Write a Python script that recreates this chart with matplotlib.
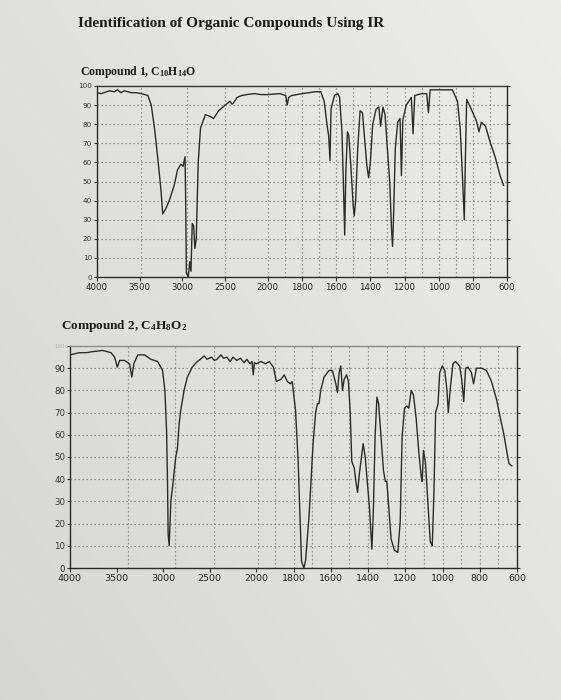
import numpy as np
import matplotlib
matplotlib.use("Agg")
import matplotlib.pyplot as plt
from matplotlib.colors import LinearSegmentedColormap

plt.rcParams['mathtext.fontset'] = 'custom'
plt.rcParams['mathtext.rm'] = 'Liberation Serif:bold'
plt.rcParams['mathtext.it'] = 'Liberation Serif:italic:bold'
plt.rcParams['mathtext.bf'] = 'Liberation Serif:bold'

title = "Identification of Organic Compounds Using IR"
label1 = r"Compound 1, C$_{10}$H$_{14}$O"
label2 = r"Compound 2, C$_{4}$H$_{8}$O$_{2}$"

xtick_vals = [4000, 3500, 3000, 2500, 2000, 1800, 1600, 1400, 1200, 1000, 800, 600]
ytick_vals = [0, 10, 20, 30, 40, 50, 60, 70, 80, 90, 100]
vgrid_low = [1900, 1800, 1700, 1600, 1500, 1400, 1300, 1200, 1100, 1000, 900, 800, 700]
vgrid_high1 = [3480, 2950, 2500, 2000]
vgrid_high2 = [3380, 2870, 2450, 1990]
hgrid_vals = [10, 20, 30, 40, 50, 60, 70, 80, 90]

# Compound 1 spectrum (wavenumber, %T)
wn1 = [4000, 3950, 3900, 3850, 3800, 3760, 3720, 3680, 3640, 3600, 3540, 3480,
       3440, 3404, 3365, 3327, 3288, 3250, 3231, 3192, 3154, 3096, 3058, 3019,
       2992, 2969, 2962, 2954, 2931, 2915, 2900, 2885, 2869, 2854, 2838, 2815,
       2788, 2731, 2673, 2635, 2577, 2500, 2442, 2420, 2404, 2360, 2308, 2250,
       2154, 2080, 2000, 1930, 1895, 1887, 1878, 1861, 1800, 1760, 1720, 1690,
       1670, 1654, 1644, 1636, 1630, 1610, 1590, 1580, 1566, 1556, 1550, 1544,
       1534, 1526, 1514, 1500, 1494, 1486, 1474, 1460, 1446, 1434, 1420, 1410,
       1400, 1386, 1366, 1350, 1340, 1326, 1314, 1300, 1286, 1276, 1270, 1264,
       1254, 1240, 1226, 1218, 1210, 1190, 1160, 1150, 1140, 1100, 1070, 1060,
       1050, 990, 920, 900, 890, 874, 860, 850, 844, 836, 810, 780, 764, 750,
       726, 700, 670, 640, 620]
t1 = [96.5, 96, 96.8, 97.5, 97, 98, 96.5, 97.5, 97, 96.5, 96.5, 96,
      95.5, 95, 90, 78, 62, 45, 33, 36, 40, 48, 56, 59,
      58, 63, 40, 2, 0, 8, 3, 28, 27, 15, 20, 60,
      78, 85, 84, 83, 87, 90, 92, 90.5, 91, 94, 95, 95.5,
      96, 95.5, 95.5, 96, 95, 90, 94, 95, 96, 96.5, 97, 97,
      92, 80, 74, 61, 88, 95, 96, 94, 76, 43, 22, 53,
      76, 74, 58, 37, 32, 40, 67, 87, 86, 73, 58, 52,
      60, 80, 88, 89, 79, 89, 85, 67, 49, 25, 16, 32,
      67, 81, 83, 53, 82, 90, 94, 75, 95, 96, 96, 86,
      98, 98, 98, 94, 92, 78, 51, 30, 60, 93, 88, 82, 76, 81,
      79, 71, 63, 53, 48]

# Compound 2 spectrum (wavenumber, %T)
wn2 = [4000, 3900, 3823, 3750, 3650, 3560, 3521, 3492, 3467, 3414, 3361, 3336,
       3315, 3272, 3201, 3130, 3059, 3006, 2981, 2963, 2953, 2946, 2935, 2917,
       2900, 2882, 2864, 2846, 2828, 2811, 2775, 2740, 2687, 2634, 2600, 2560,
       2528, 2480, 2450, 2422, 2380, 2350, 2316, 2280, 2250, 2209, 2170, 2130,
       2100, 2067, 2045, 2032, 2020, 2000, 1975, 1950, 1930, 1908, 1892, 1867,
       1850, 1833, 1817, 1807, 1789, 1775, 1766, 1757, 1744, 1735, 1717, 1708,
       1695, 1681, 1672, 1663, 1654, 1636, 1609, 1591, 1573, 1564, 1555, 1546,
       1537, 1528, 1515, 1505, 1496, 1487, 1474, 1465, 1456, 1447, 1438, 1426,
       1415, 1402, 1393, 1384, 1379, 1371, 1362, 1352, 1343, 1330, 1317, 1307,
       1299, 1289, 1276, 1258, 1240, 1227, 1217, 1204, 1191, 1181, 1168, 1156,
       1141, 1127, 1114, 1109, 1102, 1091, 1078, 1066, 1055, 1046, 1037, 1024,
       1015, 1001, 988, 976, 969, 958, 944, 930, 908, 897, 886, 876, 863, 845,
       833, 818, 791, 764, 737, 710, 688, 670, 656, 643, 628]
t2 = [96, 97, 97, 97.5, 98, 97, 95, 90.5, 93.5, 93.5, 92, 86,
      92, 96, 96, 94, 93, 89, 80, 62, 39, 15, 10, 30,
      36, 43, 50, 54, 65, 71, 80, 86, 90.5, 93, 94, 95.5,
      94, 95, 93.5, 94, 96, 94.5, 95, 93, 95, 93.5, 94.5, 92.5,
      94, 92, 93, 87, 92.5, 92, 93, 92, 93, 90.5, 84, 85,
      87, 84, 83, 84, 71, 48, 25, 3, 0, 3.5, 23, 36,
      56, 70, 74, 74, 80, 86, 89, 89, 83, 79, 88, 91,
      80, 85, 87, 84, 71, 48, 45, 39, 34, 42, 48, 56,
      50, 37, 28, 15, 8.5, 27, 59, 77, 74, 59, 44, 39,
      39, 28, 13, 8, 7, 21, 59, 72, 73, 72, 80, 78,
      67, 52, 41, 39, 53, 47, 29, 12, 10, 34, 70, 74,
      88, 91, 89, 80, 70, 81, 92, 93, 91, 85, 75, 90, 90.5, 88,
      83, 90, 90, 89, 84, 76, 67, 60, 53, 47, 46]


def fwd(x):
    # below 2000 cm-1 the chart is stretched by a factor of two
    x = np.asarray(x, dtype=float)
    return np.where(x >= 2000, x, 2 * x - 2000)


def inv(u):
    u = np.asarray(u, dtype=float)
    return np.where(u >= 2000, u, (u + 2000) / 2)


fig = plt.figure(figsize=(5.61, 7.00), dpi=100)
fig.patch.set_facecolor('#e3e3df')

# paper-like background gradient
bg = fig.add_axes([0, 0, 1, 1], zorder=-10)
gy, gx = np.mgrid[0:1:200j, 0:1:200j]
grad = 0.55 * gx + 0.45 * (1 - gy)
cmap = LinearSegmentedColormap.from_list('paper', ['#d6d6d2', '#ececea'])
bg.imshow(grad, cmap=cmap, aspect='auto', extent=[0, 1, 0, 1], origin='upper')
bg.set_axis_off()

line_col = '#2b2b2b'
grid_col = '#7a7a7a'


def draw(ax, wn, t, fs_x, fs_y, top_col, vgrid_high):
    ax.set_facecolor('none')
    ax.set_xscale('function', functions=(fwd, inv))
    ax.set_xlim(4000, 600)
    ax.set_ylim(0, 100)
    for v in vgrid_high + vgrid_low:
        ax.axvline(v, color=grid_col, lw=0.9, ls=(0, (1, 2.2)), zorder=1)
    for h in hgrid_vals:
        ax.axhline(h, color=grid_col, lw=0.9, ls=(0, (1, 2.2)), zorder=1)
    ax.plot(wn, t, color=line_col, lw=1.0, zorder=3)
    ax.set_xticks(xtick_vals)
    ax.set_xticklabels([str(v) for v in xtick_vals], fontsize=fs_x,
                       family='DejaVu Sans', color='#222222')
    ax.set_yticks(ytick_vals)
    ax.set_yticklabels([str(v) for v in ytick_vals], fontsize=fs_y,
                       family='DejaVu Sans', color='#333333')
    ax.tick_params(axis='x', length=3, width=0.8, pad=1.5, color='#333333')
    ax.tick_params(axis='y', length=2.5, width=0.8, pad=1, color='#333333',
                   right=True, direction='out')
    for s in ['left', 'bottom', 'right']:
        ax.spines[s].set_color('#2a2a2a')
        ax.spines[s].set_linewidth(1.0)
    ax.spines['top'].set_color(top_col)
    ax.spines['top'].set_linewidth(1.0)


ax1 = fig.add_axes([97 / 561, 1 - 277 / 700, 410 / 561, 191 / 700])
draw(ax1, wn1, t1, 6.2, 5.2, '#333333', vgrid_high1)
ax2 = fig.add_axes([70 / 561, 1 - 568 / 700, 447 / 561, 222 / 700])
draw(ax2, wn2, t2, 6.8, 6.2, '#8a8a8a', vgrid_high2)
ax2.get_yticklabels()[-1].set_color('#b0b0b0')
ax2.get_yticklabels()[-1].set_fontsize(4)

fig.text(78 / 561, 1 - 24 / 700, title, family='Liberation Serif',
         weight='bold', fontsize=11, va='center', ha='left', color='#1a1a1a')
fig.text(80 / 561, 1 - 72 / 700, label1, family='Liberation Serif',
         weight='bold', fontsize=8.5, va='center', ha='left', color='#1a1a1a')
fig.text(61 / 561, 1 - 326 / 700, label2, family='Liberation Serif',
         weight='bold', fontsize=9.5, va='center', ha='left', color='#1a1a1a')

fig.savefig('out.png', dpi=100, facecolor=fig.get_facecolor())
